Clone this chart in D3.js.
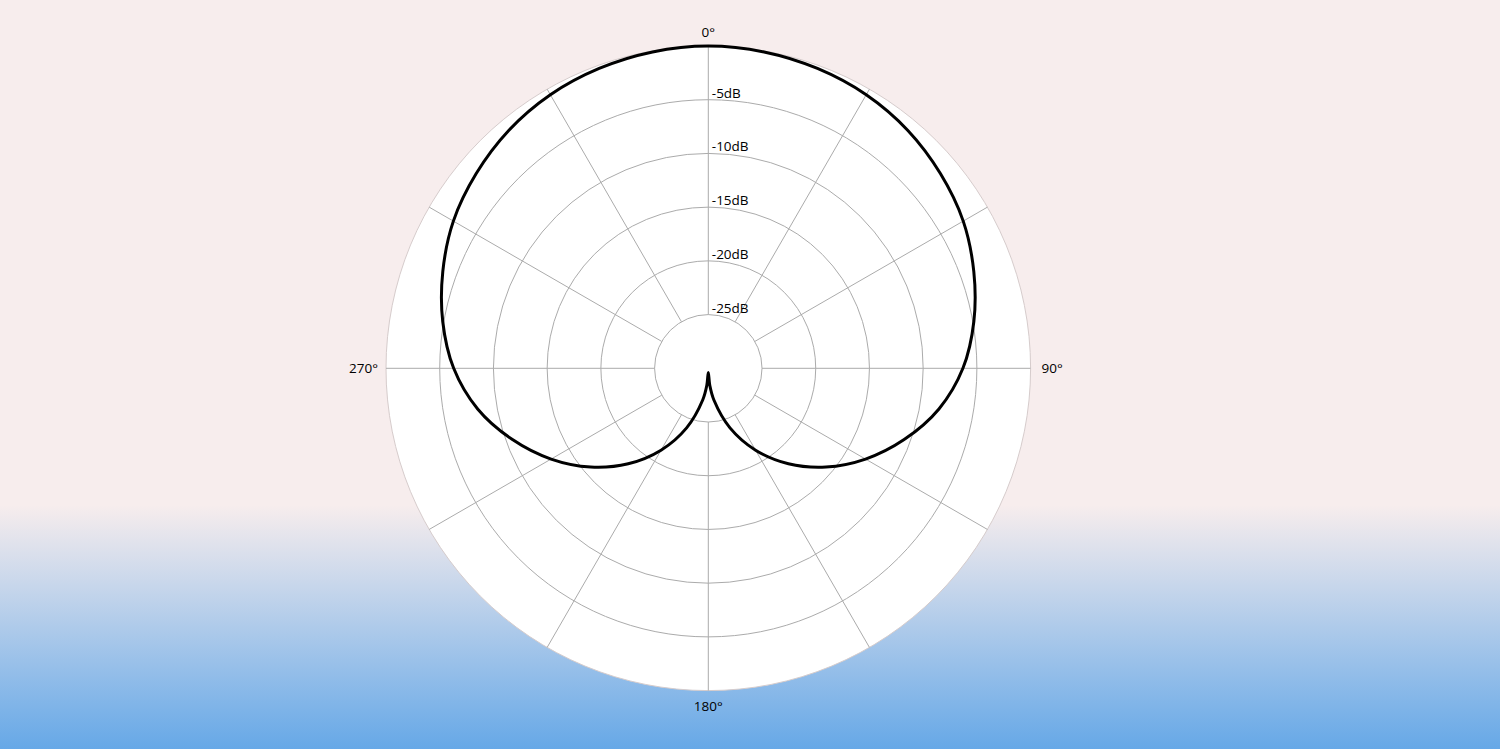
<!DOCTYPE html>
<html>
<head>
<meta charset="utf-8">
<script src="https://cdn.jsdelivr.net/npm/d3@7/dist/d3.min.js"></script>
<style>
  html, body { margin: 0; padding: 0; overflow: hidden; }
  svg { display: block; }
  text { font-family: "Open Sans", "Noto Sans", sans-serif; font-size: 13.5px; fill: #000; }
</style>
</head>
<body>
<svg id="chart" width="1500" height="749"></svg>
<script>
// ---- data ----
const spokeAngles = [0, 30, 60, 90, 120, 150, 180, 210, 240, 270, 300, 330];
const angleLabels = [0, 90, 180, 270];
const ringTicks = [-25, -20, -15, -10, -5];
const ringLabels = ["-25dB", "-20dB", "-15dB", "-10dB", "-5dB"];
const dbDomain = [-30, 0];
const patternAngles = [0, 10, 20, 30, 40, 50, 60, 70, 80, 90, 100, 110, 120, 130, 140, 150, 160, 170, 175,
                       180, 185, 190, 200, 210, 220, 230, 240, 250, 260, 270, 280, 290, 300, 310, 320, 330, 340, 350];
const patternDb = [0, -0.1, -0.3, -0.6, -1.1, -1.8, -2.6, -3.7, -4.9, -6.3, -8.2, -10.6, -13.1, -15.7, -18.4, -21.2, -24.1, -27.0, -28.4,
                   -29.6, -28.4, -27.0, -24.1, -21.2, -18.4, -15.7, -13.1, -10.6, -8.2, -6.3, -4.9, -3.7, -2.6, -1.8, -1.1, -0.6, -0.3, -0.1];

// ---- layout ----
const W = 1500, H = 749;
const cx = 708.3, cy = 368.3, R = 322.3;

const svg = d3.select("#chart");
const defs = svg.append("defs");
const grad = defs.append("linearGradient")
  .attr("id", "bg").attr("gradientUnits", "userSpaceOnUse")
  .attr("x1", 0).attr("y1", 0).attr("x2", 0).attr("y2", H);
grad.append("stop").attr("offset", 0).attr("stop-color", "#f7eded");
grad.append("stop").attr("offset", 505 / H).attr("stop-color", "#f7eded");
grad.append("stop").attr("offset", 1).attr("stop-color", "#66a8e7");

svg.append("rect").attr("width", W).attr("height", H).attr("fill", "url(#bg)");

const r = d3.scaleLinear().domain(dbDomain).range([0, R]);
const a = d3.scaleLinear().domain([0, 360]).range([0, 2 * Math.PI]);

const g = svg.append("g").attr("transform", `translate(${cx},${cy})`);

// plot disc
g.append("circle").attr("r", R).attr("fill", "#fff").attr("stroke", "#d6cccc").attr("stroke-width", 1);

// rings
g.selectAll("circle.ring").data(ringTicks).join("circle")
  .attr("class", "ring")
  .attr("r", d => r(d))
  .attr("fill", "none")
  .attr("stroke", "#ababab")
  .attr("stroke-width", 1);

// spokes
g.selectAll("line.spoke").data(spokeAngles).join("line")
  .attr("class", "spoke")
  .attr("x1", d => Math.sin(a(d)) * r(ringTicks[0]))
  .attr("y1", d => -Math.cos(a(d)) * r(ringTicks[0]))
  .attr("x2", d => Math.sin(a(d)) * R)
  .attr("y2", d => -Math.cos(a(d)) * R)
  .attr("stroke", "#ababab")
  .attr("stroke-width", 1);

// ring labels
g.selectAll("text.rl").data(ringTicks).join("text")
  .attr("class", "rl")
  .attr("x", 3.5)
  .attr("y", d => -r(d) - 2)
  .text((d, i) => ringLabels[i]);

// angle labels
g.selectAll("text.al").data(angleLabels).join("text")
  .attr("class", "al")
  .text(d => d + "°")
  .attr("text-anchor", d => d === 90 ? "start" : d === 270 ? "end" : "middle")
  .attr("x", d => d === 90 ? R + 11 : d === 270 ? -R - 8 : 0)
  .attr("y", d => d === 0 ? -R - 9 : d === 180 ? R + 20 : 5);

// pattern
const pts = patternAngles.map((ang, i) => [ang, patternDb[i]]);
const line = d3.lineRadial()
  .angle(d => a(d[0]))
  .radius(d => r(d[1]))
  .curve(d3.curveCatmullRomClosed.alpha(0.5));

g.append("path")
  .datum(pts)
  .attr("d", line)
  .attr("fill", "none")
  .attr("stroke", "#000")
  .attr("stroke-width", 3)
  .attr("stroke-linejoin", "round");
</script>
</body>
</html>
